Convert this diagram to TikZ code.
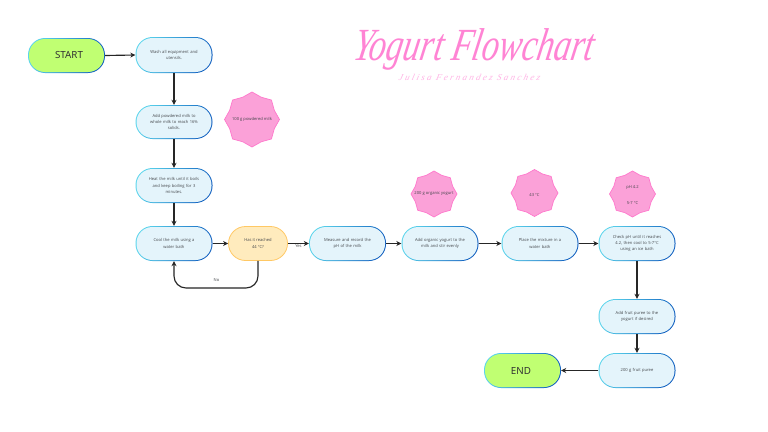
\documentclass[tikz,border=0pt]{standalone}
\usepackage{fontspec}
\setmainfont{Open Sans}
\newfontfamily\titlefont[FakeSlant=0.25]{Liberation Serif Italic}
\newfontfamily\startfont{Noto Sans}
\usetikzlibrary{shapes.geometric,arrows.meta}
\definecolor{pillfill}{HTML}{E4F4FB}
\definecolor{pillleft}{HTML}{5BD5EC}
\definecolor{pillright}{HTML}{1160C0}
\definecolor{greenfill}{HTML}{C0FF72}
\definecolor{yellowfill}{HTML}{FFEBBD}
\definecolor{yellowline}{HTML}{FFC864}
\definecolor{starfill}{HTML}{FBA1D8}
\definecolor{starline}{HTML}{FF78CC}
\definecolor{titlepink}{HTML}{FF84D4}
\definecolor{subpink}{HTML}{FFB4E6}
\definecolor{ink}{HTML}{44474B}
\tikzset{
  pillrim/.style={rounded corners=17pt,inner sep=0pt,left color=pillleft,right color=pillright,shading angle=70,draw=none},
  pillbody/.style={rounded corners=16pt,inner sep=0pt,align=center,text=ink,font=\fontsize{4.1}{6.2}\selectfont},
  burst/.style={star,star points=8,star point ratio=1.14,inner sep=0pt,fill=starfill,draw=starline,line width=.7pt},
  bursttext/.style={align=center,text=ink,font=\fontsize{4.1}{6.2}\selectfont},
  flow/.style={draw=black!85,line width=1.15pt,-{Stealth[length=5pt,width=5pt]}},
  tag/.style={text=ink,font=\fontsize{4.1}{5}\selectfont,inner sep=0pt}
}
% \pill{name}{cx}{cy}{w}{h}{fill}{text}
\newcommand{\pill}[7]{%
  \node[pillrim,minimum width=#4pt,minimum height=#5pt] (#1) at (#2,#3) {};
  \node[pillbody,fill=#6,minimum width=#4pt-2pt,minimum height=#5pt-2pt,text width=#4pt-16pt] (#1t) at (#2,#3) {#7};
}
\begin{document}
\begin{tikzpicture}[x=1pt,y=-1pt]
\useasboundingbox[fill=white] (0,0) rectangle (768,431);
% title
\node[text=titlepink,font=\titlefont\fontsize{46}{46}\selectfont,inner sep=0pt,xscale=.74] (title) at (472,49) {Yogurt Flowchart};
\node[text=subpink,font=\titlefont\fontsize{9}{9}\selectfont,inner sep=0pt] (sub) at (469,77.5) {J u l i s a\ \ F e r n a n d e z\ \ S a n c h e z};
% boxes
\pill{start}{66.5}{55.5}{77}{35}{greenfill}{\startfont\fontsize{9.8}{11}\selectfont\color{black!80}\hspace*{5pt}START}
\pill{wash}{174}{55}{77}{36}{pillfill}{Wash all equipment and\\utensils.}
\pill{powder}{174}{122}{77}{34}{pillfill}{Add powdered milk to\\whole milk to reach 16\%\\solids.}
\pill{heat}{174}{185.5}{77}{35}{pillfill}{Heat the milk until it boils\\and keep boiling for 3\\minutes.}
\pill{cool}{174}{243.5}{77}{35}{pillfill}{Cool the milk using a\\water bath}
\node[rounded corners=17pt,fill=yellowfill,draw=yellowline,line width=.8pt,minimum width=59pt,minimum height=34pt,inner sep=0pt,align=center,text=ink,font=\fontsize{4.1}{6.2}\selectfont] (check) at (258,243.5) {Has it reached\\44 °C?};
\pill{measure}{347.5}{243.5}{77}{35}{pillfill}{Measure and record the\\pH of the milk}
\pill{yogurt}{440}{243.5}{77}{35}{pillfill}{Add organic yogurt to the\\milk and stir evenly}
\pill{place}{540}{243.5}{77}{35}{pillfill}{Place the mixture in a\\water bath}
\pill{cooling}{637}{243.5}{77}{35}{pillfill}{Check pH until it reaches\\4.2, then cool to 5-7°C\\using an ice bath}
\pill{fruit}{637}{316.5}{77}{35}{pillfill}{Add fruit puree to the\\yogurt if desired}
\pill{puree}{637}{370.5}{77}{35}{pillfill}{200 g fruit puree}
\pill{finish}{522.5}{370.5}{77}{35}{greenfill}{\startfont\fontsize{9.8}{11}\selectfont\color{black!80}\hspace*{-3pt}END}
% bursts
\node[burst,minimum size=55pt] (s1) at (252,119.5) {};
\node[bursttext] (s1t) at (252,119.5) {100 g powdered milk};
\node[burst,minimum size=46pt] (s2) at (434,194) {};
\node[bursttext] (s2t) at (434,193.5) {200 g organic yogurt};
\node[burst,minimum size=47pt] (s3) at (534.5,193) {};
\node[bursttext] (s3t) at (534.5,195) {43 °C};
\node[burst,minimum size=46pt] (s4) at (632.5,194) {};
\node[bursttext,font=\fontsize{4.1}{16}\selectfont] (s4t) at (632.5,195) {pH 4.2\\5-7 °C};
% connectors
\draw[flow] (start.east) -- (wash.west);
\draw[flow] (wash.south) -- (powder.north);
\draw[flow] (powder.south) -- (heat.north);
\draw[flow] (heat.south) -- (cool.north);
\draw[flow] (cool.east) -- (check.west);
\draw[flow] (check.east) -- (measure.west);
\draw[flow] (measure.east) -- (yogurt.west);
\draw[flow] (yogurt.east) -- (place.west);
\draw[flow] (place.east) -- (cooling.west);
\draw[flow] (cooling.south) -- (fruit.north);
\draw[flow] (fruit.south) -- (puree.north);
\draw[flow] (puree.west) -- (finish.east);
\draw[flow,rounded corners=12pt] (check.south) |- (216,288) -| (cool.south);
% labels
\node[tag] (yes) at (298.5,246) {Yes};
\node[tag] (no) at (216.5,280) {No};
\end{tikzpicture}
\end{document}
